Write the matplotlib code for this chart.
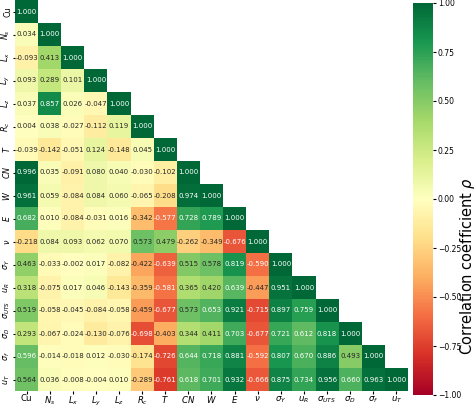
import numpy as np
import matplotlib
matplotlib.use("Agg")
import matplotlib.pyplot as plt
import seaborn as sns

labels = ['Cu', r'$N_s$', r'$L_x$', r'$L_y$', r'$L_z$', r'$R_c$', r'$T$', r'$CN$',
          r'$W$', r'$E$', r'$\nu$', r'$\sigma_Y$', r'$u_R$', r'$\sigma_{UTS}$',
          r'$\sigma_D$', r'$\sigma_f$', r'$u_T$']

# lower triangle of the correlation matrix, row by row
rows = [
    [1.000],
    [0.034, 1.000],
    [-0.093, 0.413, 1.000],
    [0.093, 0.289, 0.101, 1.000],
    [0.037, 0.857, 0.026, -0.047, 1.000],
    [0.004, 0.038, -0.027, -0.112, 0.119, 1.000],
    [-0.039, -0.142, -0.051, 0.124, -0.148, 0.045, 1.000],
    [0.996, 0.035, -0.091, 0.080, 0.040, -0.030, -0.102, 1.000],
    [0.961, 0.059, -0.084, 0.084, 0.060, -0.065, -0.208, 0.974, 1.000],
    [0.682, 0.010, -0.084, -0.031, 0.016, -0.342, -0.577, 0.728, 0.789, 1.000],
    [-0.218, 0.084, 0.093, 0.062, 0.070, 0.573, 0.479, -0.262, -0.349, -0.676, 1.000],
    [0.463, -0.033, -0.002, 0.017, -0.082, -0.422, -0.639, 0.515, 0.578, 0.819, -0.590, 1.000],
    [0.318, -0.075, 0.017, 0.046, -0.143, -0.359, -0.581, 0.365, 0.420, 0.639, -0.447, 0.951, 1.000],
    [0.519, -0.058, -0.045, -0.084, -0.058, -0.459, -0.677, 0.573, 0.653, 0.921, -0.715, 0.897, 0.759, 1.000],
    [0.293, -0.067, -0.024, -0.130, -0.076, -0.698, -0.403, 0.344, 0.411, 0.703, -0.677, 0.721, 0.612, 0.818, 1.000],
    [0.596, -0.014, -0.018, 0.012, -0.030, -0.174, -0.726, 0.644, 0.718, 0.881, -0.592, 0.807, 0.670, 0.886, 0.493, 1.000],
    [0.564, 0.036, -0.008, -0.004, 0.010, -0.289, -0.761, 0.618, 0.701, 0.932, -0.666, 0.875, 0.734, 0.956, 0.660, 0.963, 1.000],
]

n = len(labels)
corr = np.zeros((n, n))
for i, r in enumerate(rows):
    corr[i, :len(r)] = r
    corr[:len(r), i] = r
mask = np.triu(np.ones((n, n), dtype=bool), k=1)

fig = plt.figure(figsize=(4.74, 4.08), dpi=100)
ax = fig.add_axes([15/474, 17/408, 393/474, 391/408])
cax = fig.add_axes([413/474, 13/408, 20/474, 392/408])

sns.heatmap(corr, mask=mask, cmap='RdYlGn', vmin=-1, vmax=1, annot=True, fmt='.3f',
            annot_kws={'fontsize': 5}, square=False, ax=ax, cbar_ax=cax,
            xticklabels=labels, yticklabels=labels)
ax.tick_params(axis='x', labelsize=6.2, rotation=0, length=2, pad=0.5)
ax.tick_params(axis='y', labelsize=5.8, rotation=90, length=1.5, pad=0.5)
for t in ax.get_yticklabels():
    t.set_va('center')

cax.tick_params(labelsize=5.5, length=2, pad=1.5)
cax.set_ylabel(r'Correlation coefficient $\rho$', fontsize=10.5)
cax.yaxis.set_label_coords(2.25, 0.33)

fig.savefig('out.png', dpi=100)
